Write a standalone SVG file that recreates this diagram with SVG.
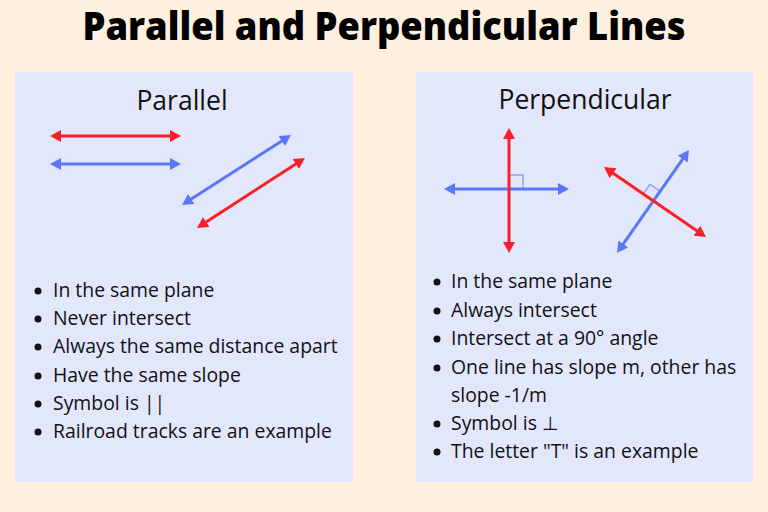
<svg xmlns="http://www.w3.org/2000/svg" width="768" height="512" viewBox="0 0 768 512">
<style>
.title{font-family:"Open Sans","Liberation Sans",sans-serif;font-weight:800;font-size:38px;fill:#000}
.head{font-family:"Open Sans","Liberation Sans",sans-serif;font-size:26.5px;fill:#111;text-anchor:middle}
.item{font-family:"Open Sans","Liberation Sans",sans-serif;font-size:19.4px;fill:#111}
.panel{fill:#E2E7FC}
.red{stroke:#F92128;stroke-width:3;fill:none}
.blue{stroke:#5A78F6;stroke-width:3;fill:none}
.ra{stroke:#90A4F8;stroke-width:1.5;fill:none}
.dot{fill:#111}
</style>
<defs>
<marker id="ahr" viewBox="0 0 11 12" markerWidth="11" markerHeight="12" refX="7" refY="6" orient="auto-start-reverse" markerUnits="userSpaceOnUse"><path d="M0,0 L11,6 L0,12 z" fill="#F92128"/></marker>
<marker id="ahb" viewBox="0 0 11 12" markerWidth="11" markerHeight="12" refX="7" refY="6" orient="auto-start-reverse" markerUnits="userSpaceOnUse"><path d="M0,0 L11,6 L0,12 z" fill="#5A78F6"/></marker>
</defs>
<rect width="768" height="512" fill="#FDF0DF"/>
<text class="title" x="384" y="40" text-anchor="middle" textLength="603" lengthAdjust="spacingAndGlyphs">Parallel and Perpendicular Lines</text>

<g id="parallel-panel">
<rect class="panel" x="15" y="72" width="338" height="410"/>
<text class="head" x="182" y="110">Parallel</text>
</g>
<g id="perpendicular-panel">
<rect class="panel" x="416" y="72" width="337" height="410"/>
<text class="head" x="585" y="109">Perpendicular</text>
</g>

<g id="connectors">
<line class="red" x1="54" y1="136" x2="177" y2="136" marker-start="url(#ahr)" marker-end="url(#ahr)"/>
<line class="blue" x1="54" y1="164" x2="177" y2="164" marker-start="url(#ahb)" marker-end="url(#ahb)"/>
<line class="blue" x1="185.4" y1="202.8" x2="287.6" y2="137.2" marker-start="url(#ahb)" marker-end="url(#ahb)"/>
<line class="red" x1="200.4" y1="225.8" x2="301.6" y2="160.2" marker-start="url(#ahr)" marker-end="url(#ahr)"/>

<path class="ra" d="M509,175 H523 V189"/>
<line class="blue" x1="448" y1="189" x2="565" y2="189" marker-start="url(#ahb)" marker-end="url(#ahb)"/>
<line class="red" x1="509" y1="132" x2="509" y2="249" marker-start="url(#ahr)" marker-end="url(#ahr)"/>

<path class="ra" d="M643.1,194.2 L650,184.4 L660,191.1"/>
<line class="blue" x1="619.3" y1="249.7" x2="686.7" y2="153.3" marker-start="url(#ahb)" marker-end="url(#ahb)"/>
<line class="red" x1="607.3" y1="169.3" x2="702.7" y2="234.7" marker-start="url(#ahr)" marker-end="url(#ahr)"/>
</g>

<g id="parallel-list">
<circle class="dot" cx="38" cy="291" r="3.5"/><text class="item" x="53" y="297">In the same plane</text>
<circle class="dot" cx="38" cy="319" r="3.5"/><text class="item" x="53" y="325">Never intersect</text>
<circle class="dot" cx="38" cy="347" r="3.5"/><text class="item" x="53" y="353">Always the same distance apart</text>
<circle class="dot" cx="38" cy="376" r="3.5"/><text class="item" x="53" y="382">Have the same slope</text>
<circle class="dot" cx="38" cy="404" r="3.5"/><text class="item" x="53" y="410">Symbol is ||</text>
<circle class="dot" cx="38" cy="432" r="3.5"/><text class="item" x="53" y="438">Railroad tracks are an example</text>
</g>

<g id="perpendicular-list">
<circle class="dot" cx="437" cy="282" r="3.5"/><text class="item" x="451" y="288">In the same plane</text>
<circle class="dot" cx="437" cy="311" r="3.5"/><text class="item" x="451" y="317">Always intersect</text>
<circle class="dot" cx="437" cy="339" r="3.5"/><text class="item" x="451" y="345">Intersect at a 90° angle</text>
<circle class="dot" cx="437" cy="368" r="3.5"/><text class="item" x="451" y="374">One line has slope m, other has</text>
<text class="item" x="451" y="402">slope -1/m</text>
<circle class="dot" cx="437" cy="424" r="3.5"/><text class="item" x="451" y="430">Symbol is ⊥</text>
<circle class="dot" cx="437" cy="452" r="3.5"/><text class="item" x="451" y="458">The letter "T" is an example</text>
</g>
</svg>
